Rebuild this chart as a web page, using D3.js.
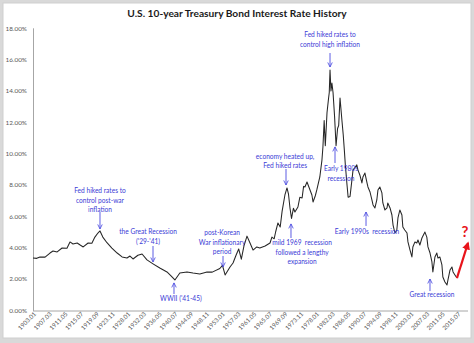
<!DOCTYPE html>
<html>
<head>
<meta charset="utf-8">
<script src="https://cdn.jsdelivr.net/npm/d3@7"></script>
<style>
  html, body { margin: 0; padding: 0; background: #d9d9d9; }
  svg { display: block; }
  text { font-family: Lato, "Open Sans", sans-serif; }
</style>
</head>
<body>
<svg id="chart" width="474" height="343"></svg>
<script>
// 10-year Treasury yield (%), by decimal year
const dates = [
  1903.0, 1904.0, 1904.85, 1906.2, 1907.5, 1908.3, 1909.4, 1910.7, 1912.0, 1912.8,
  1913.6, 1914.7, 1915.5, 1916.3, 1917.6, 1918.6, 1919.4, 1920.2, 1920.75, 1921.5,
  1922.6, 1923.9, 1925.3, 1926.6, 1927.9, 1928.7, 1929.5, 1930.8, 1931.9, 1933.2,
  1934.8, 1936.6, 1938.5, 1939.5, 1940.6, 1941.9, 1943.8, 1945.4, 1947.2, 1949.1,
  1950.5, 1952.5, 1953.2, 1953.9, 1955.2, 1956.0, 1956.8, 1957.5, 1958.2, 1958.9,
  1959.7, 1960.5, 1961.3, 1962.3, 1963.1, 1964.5, 1965.8, 1966.3, 1966.9, 1967.3,
  1967.9, 1968.5, 1969.0, 1969.75, 1970.3, 1970.7, 1971.1, 1971.5, 1972.0, 1972.4,
  1973.2, 1973.7, 1974.3, 1974.7, 1975.05, 1975.6, 1976.1, 1976.9, 1977.2, 1977.8,
  1978.2, 1979.0, 1979.56, 1979.82, 1980.15, 1980.45, 1980.9, 1981.3, 1981.5, 1981.7,
  1981.95, 1982.2, 1982.5, 1982.9, 1983.3, 1983.7, 1984.0, 1984.35, 1984.9, 1985.2,
  1985.5, 1985.75, 1986.2, 1986.5, 1987.0, 1987.5, 1987.8, 1988.3, 1988.8, 1989.1,
  1989.6, 1990.15, 1990.42, 1990.95, 1991.5, 1991.75, 1992.3, 1992.8, 1993.1, 1993.6,
  1994.1, 1994.4, 1994.9, 1995.45, 1995.7, 1996.25, 1996.8, 1997.0, 1997.6, 1998.1,
  1998.4, 1998.9, 1999.4, 1999.7, 2000.2, 2000.75, 2001.0, 2001.5, 2002.1, 2002.35,
  2002.9, 2003.4, 2003.65, 2004.2, 2004.7, 2005.0, 2005.5, 2006.05, 2006.85, 2007.35,
  2007.65, 2008.2, 2008.7, 2008.95, 2009.5, 2010.0, 2010.3, 2010.8, 2011.35, 2011.6,
  2012.15, 2012.7, 2012.95, 2013.5, 2014.0, 2014.3, 2014.8, 2015.33
];
const rates = [
  3.32, 3.30, 3.39, 3.38, 3.64, 3.77, 3.71, 3.96, 3.94, 4.35,
  4.22, 4.28, 4.15, 4.03, 4.28, 4.26, 4.66, 4.92, 5.05, 4.66,
  4.30, 3.96, 3.64, 3.39, 3.32, 3.45, 3.26, 3.50, 3.58, 3.20,
  2.95, 2.68, 2.43, 2.20, 1.92, 2.36, 2.43, 2.36, 2.30, 2.43,
  2.42, 2.65, 2.85, 2.24, 2.75, 3.00, 3.50, 3.90, 3.25, 4.10,
  4.72, 4.28, 3.83, 4.03, 3.96, 4.09, 4.28, 4.66, 4.55, 5.00,
  5.56, 5.30, 6.30, 7.35, 7.80, 7.40, 6.50, 5.85, 6.50, 6.26,
  6.58, 7.20, 7.16, 7.90, 7.86, 8.18, 7.86, 7.35, 6.90, 7.30,
  7.67, 8.50, 9.58, 10.42, 12.10, 10.50, 12.60, 13.50, 13.90, 15.34,
  14.00, 14.50, 13.90, 12.40, 10.50, 11.60, 11.80, 13.55, 12.00, 11.20,
  10.20, 9.30, 8.00, 7.20, 7.25, 8.30, 8.95, 9.10, 9.27, 8.95,
  8.63, 8.12, 8.50, 8.75, 8.12, 7.86, 7.54, 7.03, 6.71, 6.52,
  7.03, 7.67, 7.86, 7.48, 6.84, 6.39, 6.52, 6.84, 6.52, 6.07,
  5.43, 4.92, 5.11, 5.88, 6.39, 6.07, 5.30, 5.11, 4.92, 4.35,
  3.83, 3.39, 4.03, 4.35, 4.28, 4.47, 4.15, 4.60, 4.98, 4.66,
  4.03, 3.64, 3.07, 2.43, 3.39, 3.64, 3.32, 3.39, 2.88, 2.11,
  1.79, 1.60, 1.92, 2.56, 2.75, 2.43, 2.24, 2.04
];

// Category labels shown on the time axis (year.month)
const xTickLabels = [
  "1903.01", "1907.03", "1911.05", "1915.07", "1919.09", "1923.11", "1928.01",
  "1932.03", "1936.05", "1940.07", "1944.09", "1948.11", "1953.01", "1957.03",
  "1961.05", "1965.07", "1969.09", "1973.11", "1978.01", "1982.03", "1986.05",
  "1990.07", "1994.09", "1998.11", "2003.01", "2007.03", "2011.05", "2015.07"
];
const yTickValues = [0, 2, 4, 6, 8, 10, 12, 14, 16, 18];

// Event notes: text, where the text sits and where the arrow points (year, %)
const noteTexts = [
  ["Fed hiked rates to", "control post-war", "inflation"],
  ["the Great Recession", "('29-'41)"],
  ["WWII ('41-45)"],
  ["post-Korean", "War inflationary", "period"],
  ["economy heated up,", "Fed hiked rates"],
  ["mild 1969  recession", "followed a lengthy", "expansion"],
  ["Fed hiked rates to", "control high inflation"],
  ["Early 1980s", "recession"],
  ["Early 1990s  recession"],
  ["Great recession"]
];
const noteTextAt = [
  [1920.75, 7.60], [1933.5, 4.98], [1942.2, 0.70], [1953.1, 4.92], [1969.8, 9.78],
  [1974.3, 4.28], [1981.7, 17.57], [1984.6, 9.01], [1991.5, 4.98], [2008.7, 0.96]
];
const noteArrowYear = [1920.75, 1934.8, 1940.36, 1953.35, 1970.04, 1971.36, 1981.7, 1983.02, 1991.24, 2008.19];
const noteArrowFrom = [6.26, 4.09, 1.02, 3.45, 9.01, 4.60, 16.42, 9.39, 5.37, 1.21];
const noteArrowTo   = [5.18, 3.07, 1.73, 2.75, 7.99, 5.50, 15.53, 10.42, 6.26, 1.98];

// Outlook arrow: from the latest reading up to a projected level
const outlookFrom = [2015.33, 2.04];
const outlookTo = [2018.26, 4.28];
const outlookMark = [2017.47, 4.98];

const W = 474, H = 343;
const svg = d3.select("#chart");

// Chart area panel
svg.append("rect")
  .attr("x", 3).attr("y", 3).attr("width", W - 6).attr("height", H - 8)
  .attr("fill", "#ffffff").attr("stroke", "#cfcfcf");

const x = d3.scaleLinear().domain([1903.0, 2018.26]).range([33, 468]);
const y = d3.scaleLinear().domain([0, 18]).range([310, 28.3]);

// Title
svg.append("text")
  .attr("x", 237).attr("y", 17)
  .attr("text-anchor", "middle")
  .attr("font-size", 10.2).attr("font-weight", "bold")
  .attr("fill", "#1a1a1a")
  .text("U.S. 10-year Treasury Bond Interest Rate History");

// Y axis
const yAxis = d3.axisLeft(y).tickValues(yTickValues).tickSize(0).tickPadding(6)
  .tickFormat(d => d.toFixed(2) + "%");
const gy = svg.append("g").attr("transform", "translate(33,0)").call(yAxis);
gy.select(".domain").attr("stroke", "#a6a6a6").attr("d", `M0.5,${y(18)}V${y(0) + 1}`);
gy.selectAll("text").attr("font-size", 6.4).attr("fill", "#595959")
  .attr("font-family", "Lato, sans-serif");

// X axis line
svg.append("line")
  .attr("x1", 33).attr("x2", 468).attr("y1", y(0) + 1).attr("y2", y(0) + 1)
  .attr("stroke", "#a6a6a6");

// X tick labels, rotated
const labelYear = s => { const [yy, mm] = s.split(".").map(Number); return yy + (mm - 1) / 12; };
svg.append("g").selectAll("text").data(xTickLabels).join("text")
  .attr("transform", d => `translate(${x(labelYear(d)) + 2},${y(0) + 3}) rotate(-45)`)
  .attr("text-anchor", "end")
  .attr("dy", "0.35em")
  .attr("font-size", 6.1).attr("fill", "#595959")
  .text(d => d);

// Rate line
const series = dates.map((d, i) => [d, rates[i]]);
svg.append("path")
  .datum(series)
  .attr("fill", "none")
  .attr("stroke", "#262626")
  .attr("stroke-width", 1.05)
  .attr("stroke-linejoin", "round")
  .attr("d", d3.line().x(d => x(d[0])).y(d => y(d[1])));

// Arrow markers
const defs = svg.append("defs");
defs.append("marker")
  .attr("id", "blueHead").attr("viewBox", "0 0 8 8").attr("refX", 7).attr("refY", 4)
  .attr("markerWidth", 6).attr("markerHeight", 6).attr("markerUnits", "userSpaceOnUse")
  .attr("orient", "auto")
  .append("path").attr("d", "M1,1 L7,4 L1,7").attr("fill", "none")
  .attr("stroke", "#4a4ae0").attr("stroke-width", 1.1);
defs.append("marker")
  .attr("id", "redHead").attr("viewBox", "0 0 10 10").attr("refX", 8).attr("refY", 5)
  .attr("markerWidth", 8).attr("markerHeight", 8).attr("markerUnits", "userSpaceOnUse")
  .attr("orient", "auto")
  .append("path").attr("d", "M0,0 L10,5 L0,10 Z").attr("fill", "#e8141b");

// Event notes
const noteColor = "#3b3bd6";
const notes = svg.append("g");
noteTexts.forEach((lines, i) => {
  notes.append("line")
    .attr("x1", x(noteArrowYear[i])).attr("x2", x(noteArrowYear[i]))
    .attr("y1", y(noteArrowFrom[i])).attr("y2", y(noteArrowTo[i]))
    .attr("stroke", "#4a4ae0").attr("stroke-width", 0.9)
    .attr("marker-end", "url(#blueHead)");
  const t = notes.append("text")
    .attr("x", x(noteTextAt[i][0])).attr("y", y(noteTextAt[i][1]))
    .attr("text-anchor", "middle").attr("font-size", 6.6).attr("fill", noteColor);
  lines.forEach((ln, j) => {
    t.append("tspan").attr("x", x(noteTextAt[i][0])).attr("dy", j === 0 ? "0.35em" : 9.2)
      .attr("xml:space", "preserve").text(ln);
  });
});

// Outlook arrow and question mark
svg.append("line")
  .attr("x1", x(outlookFrom[0])).attr("y1", y(outlookFrom[1]))
  .attr("x2", x(outlookTo[0])).attr("y2", y(outlookTo[1]))
  .attr("stroke", "#e8141b").attr("stroke-width", 2.2)
  .attr("marker-end", "url(#redHead)");
svg.append("text")
  .attr("x", x(outlookMark[0])).attr("y", y(outlookMark[1]))
  .attr("dy", "0.35em").attr("text-anchor", "middle")
  .attr("font-size", 15).attr("font-weight", "bold")
  .attr("font-family", "'Liberation Serif', serif")
  .attr("fill", "#e8141b").text("?");
</script>
</body>
</html>
